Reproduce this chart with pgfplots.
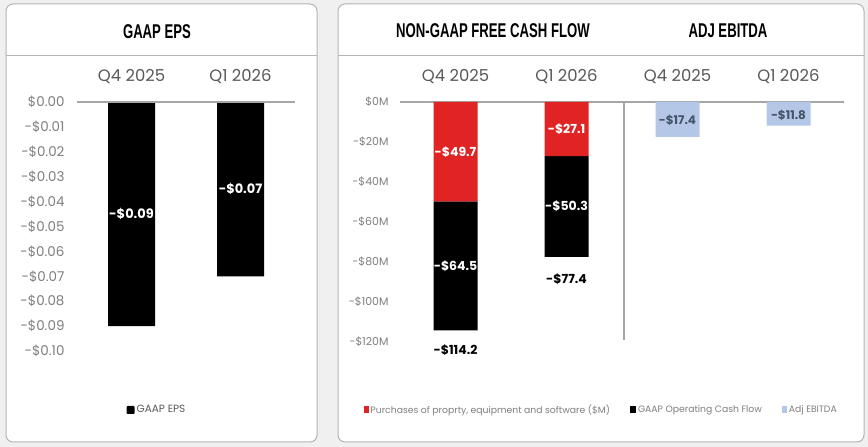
\documentclass[border=0pt]{standalone}
\usepackage{pgfplots}
\pgfplotsset{compat=1.18}
\usepackage{fontspec}
\setmainfont{Poppins}
\newfontfamily\titlefont{Liberation Sans}[FakeStretch=0.66]
\definecolor{barred}{HTML}{E02424}
\definecolor{ebit}{HTML}{B4C7E7}
\definecolor{zl}{HTML}{A6A6A6}
\definecolor{catgray}{HTML}{595959}
\definecolor{tickgray}{HTML}{7F7F7F}
\definecolor{ebtxt}{HTML}{44546A}
\definecolor{bg}{HTML}{F0F0F0}
\definecolor{border}{HTML}{B4B4B4}
\begin{document}
\begin{tikzpicture}[x=1bp,y=1bp]
\useasboundingbox (0,0) rectangle (868,447);
\fill[bg] (0,0) rectangle (868,447);
\fill[white,draw=border,line width=1bp,rounded corners=7bp] (6,5) rectangle (317,443);
\fill[white,draw=border,line width=1bp,rounded corners=7bp] (338,5) rectangle (864,443);
\draw[border,line width=1bp] (6,391) -- (317,391);
\draw[border,line width=1bp] (338,391) -- (864,391);
\node[font=\titlefont\bfseries\fontsize{20}{24}\selectfont] at (157,415) {GAAP EPS};
\node[font=\titlefont\bfseries\fontsize{20}{24}\selectfont] at (493,416) {NON-GAAP FREE CASH FLOW};
\node[font=\titlefont\bfseries\fontsize{20}{24}\selectfont] at (728,416) {ADJ EBITDA};

% ---------------- GAAP EPS ----------------
\begin{axis}[at={(77bp,71bp)}, anchor=south west, scale only axis,
  width=218bp, height=274bp,
  xmin=-0.5, xmax=1.5, ymin=-0.11, ymax=0, clip=false,
  axis line style={draw=none}, major tick length=0pt,
  xtick={0,1}, xticklabels={Q4 2025,Q1 2026}, xticklabel pos=upper,
  xticklabel style={font=\fontsize{16.5}{19}\selectfont, text=catgray, anchor=center, yshift=25bp},
  ytick={-0.10,-0.09,-0.08,-0.07,-0.06,-0.05,-0.04,-0.03,-0.02,-0.01,0},
  yticklabels={-\$0.10,-\$0.09,-\$0.08,-\$0.07,-\$0.06,-\$0.05,-\$0.04,-\$0.03,-\$0.02,-\$0.01,\$0.00},
  yticklabel style={font=\fontsize{13.5}{16}\selectfont, text=tickgray, anchor=east, xshift=-9bp},
  legend style={at={(0.367,-0.124)}, anchor=center, draw=none, fill=none,
    font=\fontsize{10.5}{12}\selectfont, text=catgray, inner sep=0pt},
]
\addplot[ybar, bar width=47bp, fill=black, draw=none,
  legend image code/.code={\fill[black,rounded corners=1bp] (0bp,-4bp) rectangle (8bp,4bp);}]
  coordinates {(0,-0.09) (1,-0.07)};
\addlegendentry{GAAP EPS}
\addplot[draw=none, mark=none, forget plot, point meta=explicit symbolic, nodes near coords,
  nodes near coords style={anchor=center, text=white, font=\bfseries\fontsize{13}{15}\selectfont}]
  coordinates {(0,-0.045) [-\$0.09] (1,-0.035) [-\$0.07]};
\draw[zl, line width=2bp] (axis cs:-0.5,0) -- (axis cs:1.5,0);
\end{axis}

% ---------------- FCF + EBITDA bars ----------------
\begin{axis}[at={(400bp,95bp)}, anchor=south west, scale only axis,
  width=444bp, height=250bp,
  xmin=-0.5, xmax=3.5, ymin=-125, ymax=0, clip=false,
  ybar stacked, bar width=44bp,
  axis line style={draw=none}, major tick length=0pt,
  xtick={0,1,2,3}, xticklabels={Q4 2025,Q1 2026,Q4 2025,Q1 2026}, xticklabel pos=upper,
  xticklabel style={font=\fontsize{16.5}{19}\selectfont, text=catgray, anchor=center, yshift=25bp},
  ytick={-120,-100,-80,-60,-40,-20,0},
  yticklabels={-\$120M,-\$100M,-\$80M,-\$60M,-\$40M,-\$20M,\$0M},
  yticklabel style={font=\fontsize{11}{13}\selectfont, text=tickgray, anchor=east, xshift=-8bp},
  legend columns=3,
  legend style={at={(0.453,-0.232)}, anchor=center, draw=none, fill=none,
    font=\fontsize{9.3}{11}\selectfont, text=tickgray, inner sep=0pt,
    /tikz/every even column/.append style={column sep=18bp}},
]
\addplot[fill=barred, draw=none,
  legend image code/.code={\fill[barred] (0bp,-3bp) rectangle (5bp,3.5bp);}]
  coordinates {(0,-49.7) (1,-27.1) (2,0) (3,0)};
\addlegendentry{Purchases of proprty, equipment and software (\$M)}
\addplot[fill=black, draw=none,
  legend image code/.code={\fill[black] (0bp,-3bp) rectangle (6bp,3.5bp);}]
  coordinates {(0,-64.5) (1,-50.3) (2,0) (3,0)};
\addlegendentry{GAAP Operating Cash Flow}
\addplot[fill=ebit, draw=none,
  legend image code/.code={\fill[ebit] (0bp,-3bp) rectangle (5bp,3.5bp);}]
  coordinates {(0,0) (1,0) (2,-17.4) (3,-11.8)};
\addlegendentry{Adj EBITDA}
\draw[zl, line width=2bp] (axis cs:-0.5,0) -- (axis cs:3.5,0);
\draw[zl, line width=1.5bp] (axis cs:1.52,0) -- (axis cs:1.52,-119);
\end{axis}

% ---------------- labels ----------------
\begin{axis}[at={(400bp,95bp)}, anchor=south west, scale only axis,
  width=444bp, height=250bp,
  xmin=-0.5, xmax=3.5, ymin=-125, ymax=0, clip=false, hide axis]
\addplot[draw=none, mark=none, point meta=explicit symbolic, nodes near coords,
  nodes near coords style={anchor=center, text=white, font=\bfseries\fontsize{12.5}{15}\selectfont}]
  coordinates {(0,-24.85) [-\$49.7] (1,-13.55) [-\$27.1] (0,-81.95) [-\$64.5] (1,-52.25) [-\$50.3]};
\addplot[draw=none, mark=none, point meta=explicit symbolic, nodes near coords,
  nodes near coords style={anchor=center, text=black, font=\bfseries\fontsize{12.5}{15}\selectfont}]
  coordinates {(0,-124) [-\$114.2] (1,-88.5) [-\$77.4]};
\addplot[draw=none, mark=none, point meta=explicit symbolic, nodes near coords,
  nodes near coords style={anchor=center, text=ebtxt, font=\bfseries\fontsize{12}{14}\selectfont}]
  coordinates {(2,-9) [-\$17.4] (3,-6.5) [-\$11.8]};
\end{axis}
\end{tikzpicture}
\end{document}
